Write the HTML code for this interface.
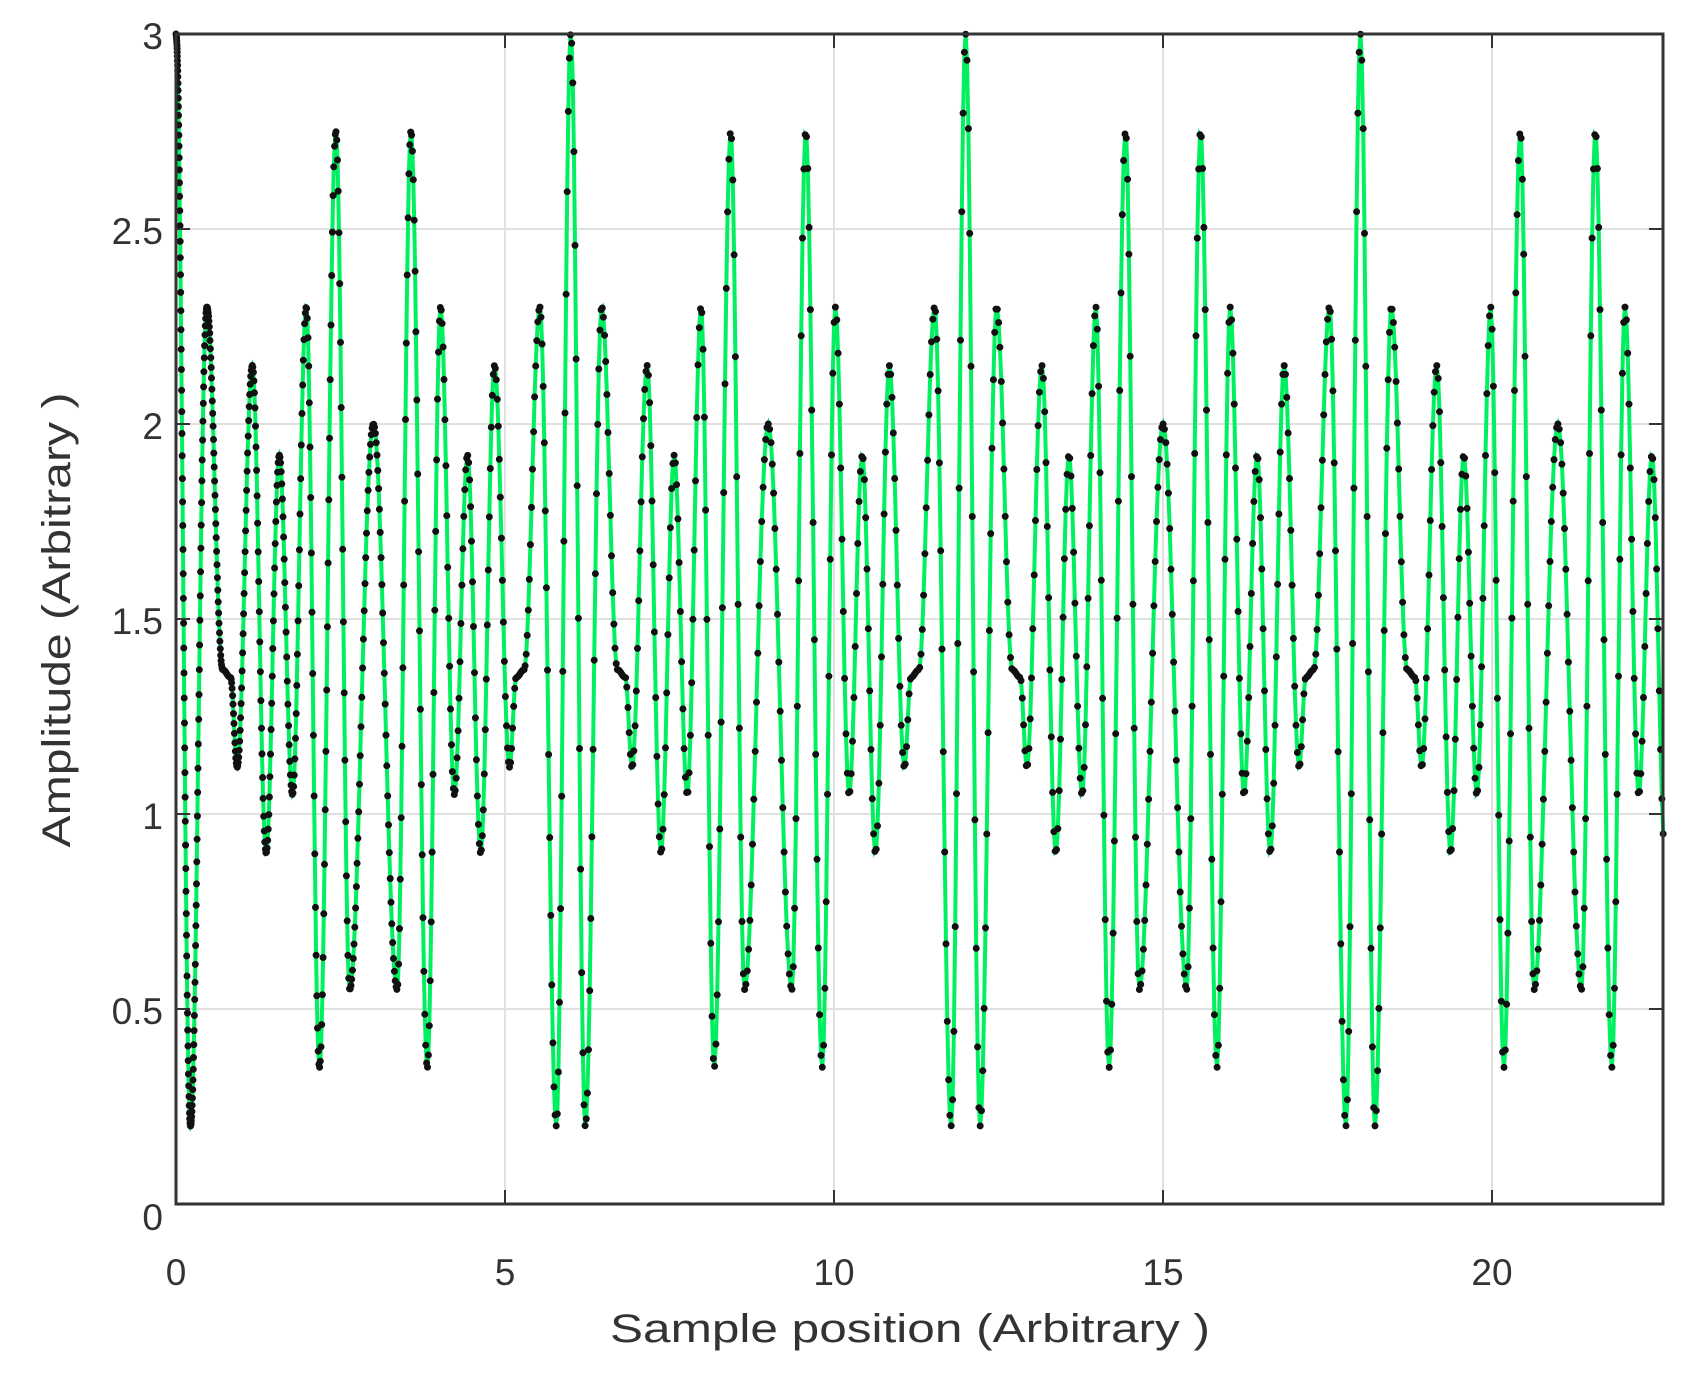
<!DOCTYPE html>
<html><head><meta charset="utf-8"><style>
html,body{margin:0;padding:0;background:#fff;}
svg{display:block;}
text{font-family:"Liberation Sans",sans-serif;fill:#333;}
</style></head><body>
<svg id="s" width="1689" height="1381" xmlns="http://www.w3.org/2000/svg">
<rect width="1689" height="1381" fill="#fff"/>
<g id="grid" stroke="#e0e0e0" stroke-width="2"></g>
<g id="plot"></g>
<rect x="176" y="34" width="1487" height="1170" fill="none" stroke="#333" stroke-width="3"/>
<g id="ticks" stroke="#333" stroke-width="2"></g>
<g id="labels" font-size="37"></g>
<text x="910" y="1342" font-size="40" text-anchor="middle" textLength="600" lengthAdjust="spacingAndGlyphs">Sample position (Arbitrary )</text>
<text transform="translate(70,620) rotate(-90)" font-size="40" text-anchor="middle" textLength="455" lengthAdjust="spacingAndGlyphs">Amplitude (Arbitrary )</text>
</svg>
<script>
var NS="http://www.w3.org/2000/svg";
function px(x){return 176+x*65.8;}
function py(y){return 1204-y*390;}
function el(p,t,a){var e=document.createElementNS(NS,t);for(var k in a)e.setAttribute(k,a[k]);p.appendChild(e);return e;}
var g=document.getElementById('grid'),tk=document.getElementById('ticks'),lb=document.getElementById('labels');
[5,10,15,20].forEach(function(v){var X=px(v);el(g,'line',{x1:X,y1:34,x2:X,y2:1204});
el(tk,'line',{x1:X,y1:1204,x2:X,y2:1190});el(tk,'line',{x1:X,y1:34,x2:X,y2:48});});
[0.5,1,1.5,2,2.5].forEach(function(v){var Y=py(v);el(g,'line',{x1:176,y1:Y,x2:1663,y2:Y});
el(tk,'line',{x1:176,y1:Y,x2:190,y2:Y});el(tk,'line',{x1:1663,y1:Y,x2:1649,y2:Y});});
[0,5,10,15,20].forEach(function(v){var t=el(lb,'text',{x:px(v),y:1285,'text-anchor':'middle'});t.textContent=v;});
[0,0.5,1,1.5,2,2.5,3].forEach(function(v){var t=el(lb,'text',{x:163,y:py(v)+(v==0?26:15),'text-anchor':'end'});t.textContent=v;});
var K=[[0,3],[0.22,0.2],[0.47,2.3],[0.71,1.37],[0.83,1.35],[0.93,1.12],[1.16,2.15],[1.37,0.9],[1.57,1.92],[1.77,1.05],[1.98,2.3],[2.18,0.35],[2.43,2.75],[2.64,0.55],[3.0,2.0]];
function f(x){x=x%6;if(x>3)x=6-x;
for(var i=0;i<K.length-1;i++){if(x<=K[i+1][0]){var a=K[i],b=K[i+1];var t=(x-a[0])/(b[0]-a[0]);t=(1-Math.cos(Math.PI*t))/2;return a[1]+(b[1]-a[1])*t;}}
return 2;}
var pts=[],x=0;
while(x<=22.62){pts.push([x,f(x)]);x+=Math.min(0.0065*Math.sqrt(x)+0.001,0.02);}
var d='';pts.forEach(function(p,i){d+=(i?'L':'M')+px(p[0]).toFixed(1)+' '+py(p[1]).toFixed(1);});
var pl=document.getElementById('plot');
el(pl,'path',{d:d,fill:'none',stroke:'#00f060','stroke-width':4});
var dd='';pts.forEach(function(p){var X=px(p[0]),Y=py(p[1]);dd+='M'+(X-3.5).toFixed(1)+' '+Y.toFixed(1)+'a3.5 3.5 0 1 0 7 0a3.5 3.5 0 1 0 -7 0';});
el(pl,'path',{d:dd,fill:'#111'});
</script>
</body></html>
